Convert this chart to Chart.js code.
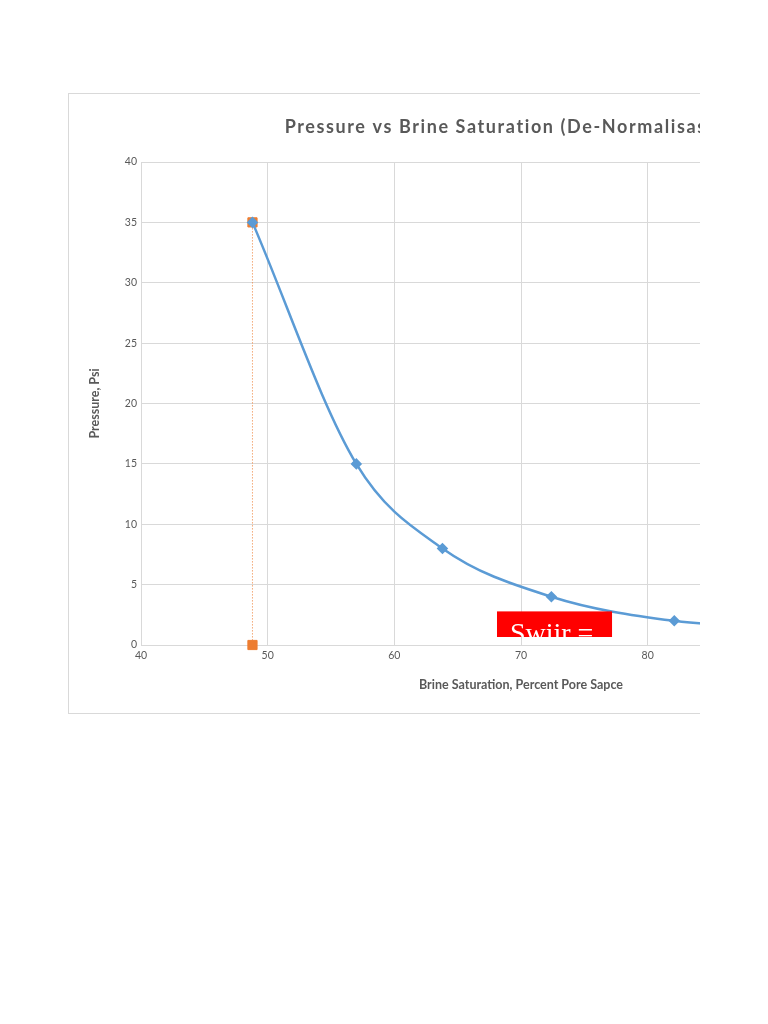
<!DOCTYPE html>
<html lang="en">

<head>
    <meta charset="utf-8">
    <title>Pressure vs Brine Saturation</title>
    <script src="https://cdn.jsdelivr.net/npm/chart.js@4.4.0/dist/chart.umd.min.js"></script>
    <style>
        body {
            margin: 0;
            padding: 0;
            background: #ffffff;
            font-family: 'Lato', sans-serif;
        }

        #frame {
            position: absolute;
            left: 68px;
            top: 93px;
            width: 631px;
            height: 619px;
            overflow: hidden;
            border-left: 1px solid #d9d9d9;
            border-top: 1px solid #d9d9d9;
            border-bottom: 1px solid #d9d9d9;
        }
    </style>
</head>

<body>
    <div id="frame">
        <canvas id="pcChart" width="866" height="619"></canvas>
    </div>

    <script>
        // capillary pressure curve
        const saturation = [48.8, 57.0, 63.8, 72.4, 82.1, 92.0];
        const pressure = [35, 15, 8, 4, 2, 1.3];

        // Swirr marker line
        const swirrX = [48.8, 48.8];
        const swirrY = [35, 0];

        const xTicks = [40, 50, 60, 70, 80, 90, 100];
        const yTicks = [0, 5, 10, 15, 20, 25, 30, 35, 40];

        const chartTitle = 'Pressure vs Brine Saturation (De-Normalisasi)';

        // red label box (data units)
        const boxX = [68.1, 77.2];
        const boxY = [2.8, 0.66];
        const boxText = 'Swiir =';

        const grey = '#595959';

        // title drawn by hand so it can get Excel's loose letter spacing
        const spacedTitle = {
            id: 'spacedTitle',
            afterDraw(chart) {
                const c = chart.ctx;
                c.save();
                c.font = 'bold 18px Lato';
                c.letterSpacing = '1.6px';
                c.fillStyle = grey;
                c.textAlign = 'center';
                c.textBaseline = 'middle';
                c.fillText(chartTitle, chart.width / 2, 33);
                c.restore();
            }
        };

        const redBox = {
            id: 'redBox',
            afterDatasetsDraw(chart) {
                const { ctx, scales: { x, y } } = chart;
                const left = x.getPixelForValue(boxX[0]);
                const right = x.getPixelForValue(boxX[1]);
                const top = y.getPixelForValue(boxY[0]);
                const bottom = y.getPixelForValue(boxY[1]);
                ctx.save();
                ctx.beginPath();
                ctx.rect(left, top, right - left, bottom - top);
                ctx.clip();
                ctx.fillStyle = '#ff0000';
                ctx.fillRect(left, top, right - left, bottom - top);
                ctx.fillStyle = '#ffffff';
                ctx.font = '28px "Liberation Serif", serif';
                ctx.textBaseline = 'alphabetic';
                ctx.fillText(boxText, left + 13, top + 31);
                ctx.restore();
            }
        };

        const ctx = document.getElementById('pcChart').getContext('2d');

        new Chart(ctx, {
            type: 'scatter',
            data: {
                datasets: [
                    {
                        label: 'Pc',
                        data: saturation.map((s, i) => ({ x: s, y: pressure[i] })),
                        showLine: true,
                        borderColor: '#5b9bd5',
                        backgroundColor: '#5b9bd5',
                        borderWidth: 2.5,
                        cubicInterpolationMode: 'monotone',
                        pointStyle: 'rectRot',
                        pointRadius: 4,
                        order: 1
                    },
                    {
                        label: 'Swirr',
                        data: swirrX.map((s, i) => ({ x: s, y: swirrY[i] })),
                        showLine: true,
                        clip: false,
                        borderColor: '#ed7d31',
                        backgroundColor: '#ed7d31',
                        borderWidth: 1,
                        borderDash: [1, 2],
                        pointStyle: 'rect',
                        pointRadius: 6.5,
                        order: 2
                    }
                ]
            },
            options: {
                responsive: false,
                animation: false,
                layout: {
                    padding: { top: 68, right: 34, bottom: 0, left: 0 }
                },
                plugins: {
                    legend: { display: false },
                    tooltip: { enabled: false },
                    title: { display: false }
                },
                scales: {
                    x: {
                        type: 'linear',
                        min: 40,
                        max: 100,
                        afterBuildTicks: s => { s.ticks = xTicks.map(v => ({ value: v })); },
                        afterFit: s => { s.height = 68; },
                        grid: { color: '#d9d9d9', drawTicks: false },
                        border: { display: false },
                        ticks: {
                            color: grey,
                            padding: 4,
                            font: { family: 'Lato', size: 10.5 }
                        },
                        title: {
                            display: true,
                            text: 'Brine Saturation, Percent Pore Sapce',
                            color: grey,
                            font: { family: 'Lato', size: 12.5, weight: 'bold' },
                            padding: { top: 4, bottom: 21 }
                        }
                    },
                    y: {
                        min: 0,
                        max: 40,
                        afterBuildTicks: s => { s.ticks = yTicks.map(v => ({ value: v })); },
                        afterFit: s => { s.width = 72; },
                        grid: { color: '#d9d9d9', drawTicks: false },
                        border: { display: false },
                        ticks: {
                            color: grey,
                            padding: 4,
                            font: { family: 'Lato', size: 10.5 }
                        },
                        title: {
                            display: true,
                            text: 'Pressure, Psi',
                            color: grey,
                            font: { family: 'Lato', size: 12.5, weight: 'bold' },
                            padding: { top: 18, bottom: 0 }
                        }
                    }
                }
            },
            plugins: [redBox, spacedTitle]
        });
    </script>
</body>

</html>
